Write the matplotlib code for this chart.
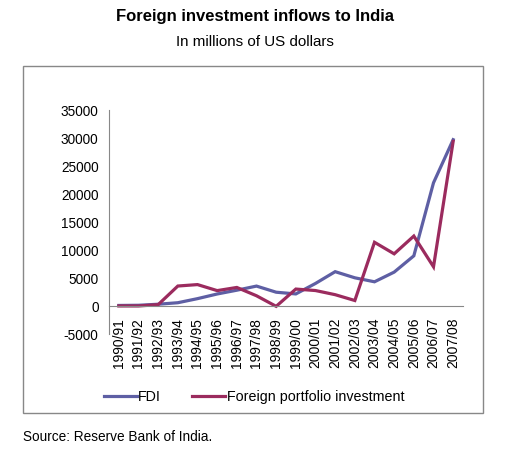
import matplotlib
matplotlib.use("Agg")
import matplotlib.pyplot as plt
from matplotlib.patches import Rectangle

plt.rcParams['font.family'] = ['Liberation Sans', 'DejaVu Sans']
plt.rcParams['axes.unicode_minus'] = False

years = ["1990/91", "1991/92", "1992/93", "1993/94", "1994/95", "1995/96",
         "1996/97", "1997/98", "1998/99", "1999/00", "2000/01", "2001/02",
         "2002/03", "2003/04", "2004/05", "2005/06", "2006/07", "2007/08"]
fdi = [97, 129, 315, 586, 1314, 2144, 2821, 3557, 2462, 2155, 4029, 6130,
       5035, 4322, 6051, 8961, 22000, 29700]
fpi = [6, 4, 244, 3567, 3824, 2748, 3312, 1828, -61, 3026, 2760, 2021,
       979, 11377, 9315, 12492, 7003, 29400]
yticks = [-5000, 0, 5000, 10000, 15000, 20000, 25000, 30000, 35000]

fig = plt.figure(figsize=(5.1, 4.51), dpi=100)
ax = fig.add_axes([109/510, 117/451, 354/510, 224/451])

x = range(len(years))
l1, = ax.plot(x, fdi, color="#5E5FA4", lw=2.3, solid_joinstyle="miter")
l2, = ax.plot(x, fpi, color="#9B2B5E", lw=2.3, solid_joinstyle="miter")

# move x axis to zero first (this resets the ticks)
for s in ["top", "right"]:
    ax.spines[s].set_visible(False)
ax.spines["bottom"].set_position(("data", 0))
ax.spines["bottom"].set_color("#888888")
ax.spines["left"].set_color("#888888")

ax.set_xlim(-0.5, len(years) - 0.5)
ax.set_ylim(-5000, 35000)
ax.set_yticks(yticks)
ax.set_xticks(list(x))
ax.set_xticklabels(years, rotation=90)
ax.tick_params(axis="y", length=0, pad=7.5, labelsize=9.8)
ax.tick_params(axis="x", length=0, pad=8.5, labelsize=10)

fig.legend([l1, l2], ["FDI", "Foreign portfolio investment"],
           loc="center", bbox_to_anchor=(254/510, 1 - 397/451), ncol=2,
           frameon=False, fontsize=10.3, handlelength=2.3, handletextpad=0.1,
           columnspacing=2.2)

fig.patches.append(Rectangle((23/510, 1 - 413/451), 460/510, 347/451,
                             transform=fig.transFigure, fill=False,
                             edgecolor="#888888", lw=1))

fig.text(0.5, 1 - 16/451, "Foreign investment inflows to India", ha="center",
         va="center", fontsize=12, fontweight="bold")
fig.text(0.5, 1 - 42/451, "In millions of US dollars", ha="center",
         va="center", fontsize=10.9)
fig.text(23/510, 1 - 437/451, "Source: Reserve Bank of India.", ha="left",
         va="center", fontsize=9.8)

fig.savefig("out.png", dpi=100)
